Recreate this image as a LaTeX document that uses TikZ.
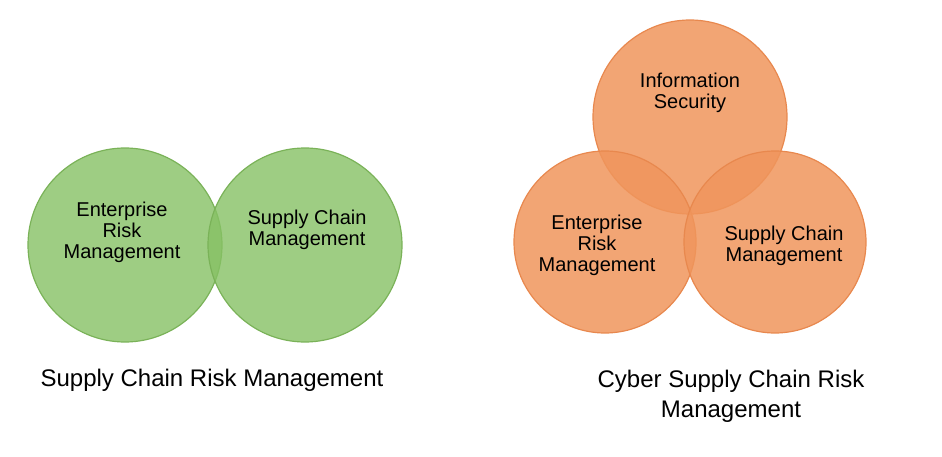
\documentclass[tikz,border=0pt]{standalone}
\usepackage{fontspec}
\setmainfont{Liberation Sans}
\begin{document}
\begin{tikzpicture}[x=1pt,y=-1pt]
\useasboundingbox (0,0) rectangle (942,457);
\definecolor{gfill}{HTML}{86C164}
\definecolor{gedge}{HTML}{7AB258}
\definecolor{ofill}{HTML}{F0955C}
\definecolor{oedge}{HTML}{E8884E}
\tikzset{gc/.style={circle,fill=gfill,draw=gedge,fill opacity=0.8,line width=1.2pt,minimum size=194pt,inner sep=0pt},
 oc/.style={circle,fill=ofill,draw=oedge,fill opacity=0.85,line width=1.2pt,minimum size=182pt,inner sep=0pt},
 lbl/.style={font=\fontsize{20}{21}\selectfont,align=center,text=black},
 ttl/.style={font=\fontsize{24}{30}\selectfont,align=center,text=black}}
\node[gc] (erm) at (125,245) {};
\node[gc] (scm) at (305,245) {};
\node[lbl] (t1) at (122,232) {Enterprise\\Risk\\Management};
\node[lbl] (t2) at (307,230) {Supply Chain\\Management};
\node[ttl] (s1) at (212,380) {Supply Chain Risk Management};
\node[oc,minimum size=194pt] (is) at (690,117) {};
\node[oc] (erm2) at (605,242) {};
\node[oc] (scm2) at (775,242) {};
\node[lbl] (t3) at (690,93) {Information\\Security};
\node[lbl] (t4) at (597,245) {Enterprise\\Risk\\Management};
\node[lbl] (t5) at (784,246) {Supply Chain\\Management};
\node[ttl] (s2) at (731,396) {Cyber Supply Chain Risk\\Management};
\end{tikzpicture}
\end{document}
